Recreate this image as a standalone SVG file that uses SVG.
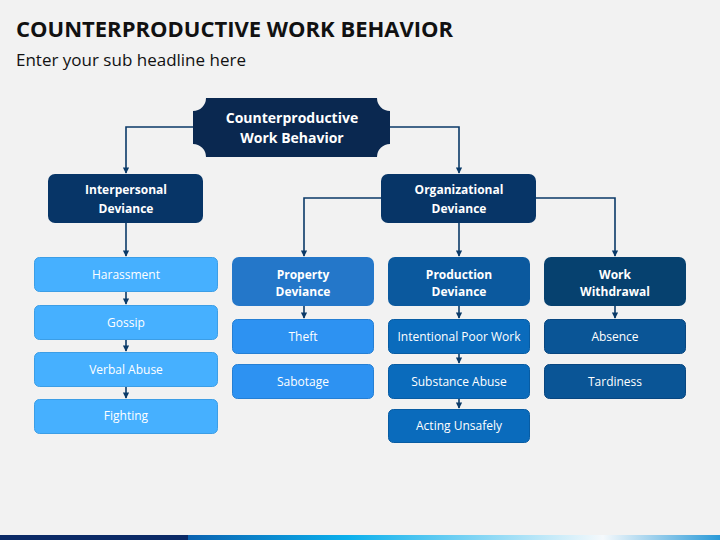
<svg xmlns="http://www.w3.org/2000/svg" width="720" height="540" viewBox="0 0 720 540">
<defs>
<style>
.t{font-family:"Open Sans","Liberation Sans",sans-serif;fill:#fff;text-anchor:middle}
.b{font-weight:bold;font-size:14px}
.h{font-weight:bold;font-size:12px}
.i{font-size:12px}
.c{stroke:#0b3a68;stroke-width:1.6;fill:none;marker-end:url(#a)}
</style>
<marker id="a" viewBox="0 0 8 8" refX="7" refY="4" markerWidth="4" markerHeight="4" orient="auto"><path d="M0,0L8,4L0,8z" fill="#0b3a68"/></marker>
<linearGradient id="g" x1="0" x2="1"><stop offset="0" stop-color="#0a62b0"/><stop offset="0.3" stop-color="#0bb0ec"/><stop offset="0.78" stop-color="#f5f9fc"/><stop offset="1" stop-color="#2a9ad8"/></linearGradient>
</defs>
<rect width="720" height="540" fill="#f2f2f2"/>
<text x="16" y="37" font-family="'Open Sans','Liberation Sans',sans-serif" font-weight="bold" font-size="22" fill="#111">COUNTERPRODUCTIVE WORK BEHAVIOR</text>
<text x="16" y="66" font-family="'Open Sans','Liberation Sans',sans-serif" font-size="17" fill="#111">Enter your sub headline here</text>
<rect x="0" y="535" width="188" height="5" fill="#0b2a66"/>
<rect x="188" y="535" width="532" height="5" fill="url(#g)"/>
<g id="connectors">
<path class="c" d="M193,127H126V173"/>
<path class="c" d="M390,127H459V173"/>
<path class="c" d="M126,223V256"/>
<path class="c" d="M381,198H304V256"/>
<path class="c" d="M459,223V256"/>
<path class="c" d="M536,198H615V256"/>
<path class="c" d="M126,291V304"/><path class="c" d="M126,339V351"/><path class="c" d="M126,386V398"/>
<path class="c" d="M304,306V318"/><path class="c" d="M459,306V318"/><path class="c" d="M615,306V318"/>
<path class="c" d="M459,353V363"/><path class="c" d="M459,398V408"/>
</g>
<g id="root"><path d="M206,98H377A13,13 0 0 0 390,111V144A13,13 0 0 0 377,157H206A13,13 0 0 0 193,144V111A13,13 0 0 0 206,98Z" fill="#0a2850"/>
<text class="t b" x="292" y="123">Counterproductive</text><text class="t b" x="292" y="143">Work Behavior</text></g>
<g id="interpersonal"><rect x="48" y="174" width="155" height="49" rx="7" fill="#073567"/><text class="t h" x="126" y="194">Interpersonal</text><text class="t h" x="126" y="213">Deviance</text></g>
<g id="organizational"><rect x="381" y="174" width="155" height="49" rx="7" fill="#073567"/><text class="t h" x="459" y="194">Organizational</text><text class="t h" x="459" y="213">Deviance</text></g>
<g id="harassment"><rect x="34.5" y="257.5" width="183" height="34" rx="5" fill="#46b0ff" stroke="#3c9ee6"/><text class="t i" x="126" y="279">Harassment</text></g>
<g id="gossip"><rect x="34.5" y="305.5" width="183" height="34" rx="5" fill="#46b0ff" stroke="#3c9ee6"/><text class="t i" x="126" y="327">Gossip</text></g>
<g id="verbal"><rect x="34.5" y="352.5" width="183" height="34" rx="5" fill="#46b0ff" stroke="#3c9ee6"/><text class="t i" x="126" y="374">Verbal Abuse</text></g>
<g id="fighting"><rect x="34.5" y="399.5" width="183" height="34" rx="5" fill="#46b0ff" stroke="#3c9ee6"/><text class="t i" x="126" y="420">Fighting</text></g>
<g id="property"><rect x="232" y="257" width="142" height="49" rx="7" fill="#2477c9"/><text class="t h" x="303" y="279">Property</text><text class="t h" x="303" y="296">Deviance</text></g>
<g id="theft"><rect x="232.5" y="319.5" width="141" height="34" rx="5" fill="#2d92f2" stroke="#257fd4"/><text class="t i" x="303" y="341">Theft</text></g>
<g id="sabotage"><rect x="232.5" y="364.5" width="141" height="34" rx="5" fill="#2d92f2" stroke="#257fd4"/><text class="t i" x="303" y="386">Sabotage</text></g>
<g id="production"><rect x="388" y="257" width="142" height="49" rx="7" fill="#0b599e"/><text class="t h" x="459" y="279">Production</text><text class="t h" x="459" y="296">Deviance</text></g>
<g id="poorwork"><rect x="388.5" y="319.5" width="141" height="34" rx="5" fill="#0a6bbc" stroke="#085ca3"/><text class="t i" x="459" y="341">Intentional Poor Work</text></g>
<g id="substance"><rect x="388.5" y="364.5" width="141" height="34" rx="5" fill="#0a6bbc" stroke="#085ca3"/><text class="t i" x="459" y="386">Substance Abuse</text></g>
<g id="unsafely"><rect x="388.5" y="409.5" width="141" height="33" rx="5" fill="#0a6bbc" stroke="#085ca3"/><text class="t i" x="459" y="430">Acting Unsafely</text></g>
<g id="withdrawal"><rect x="544" y="257" width="142" height="49" rx="7" fill="#06416f"/><text class="t h" x="615" y="279">Work</text><text class="t h" x="615" y="296">Withdrawal</text></g>
<g id="absence"><rect x="544.5" y="319.5" width="141" height="34" rx="5" fill="#0a5596" stroke="#084680"/><text class="t i" x="615" y="341">Absence</text></g>
<g id="tardiness"><rect x="544.5" y="364.5" width="141" height="34" rx="5" fill="#0a5596" stroke="#084680"/><text class="t i" x="615" y="386">Tardiness</text></g>
</svg>
